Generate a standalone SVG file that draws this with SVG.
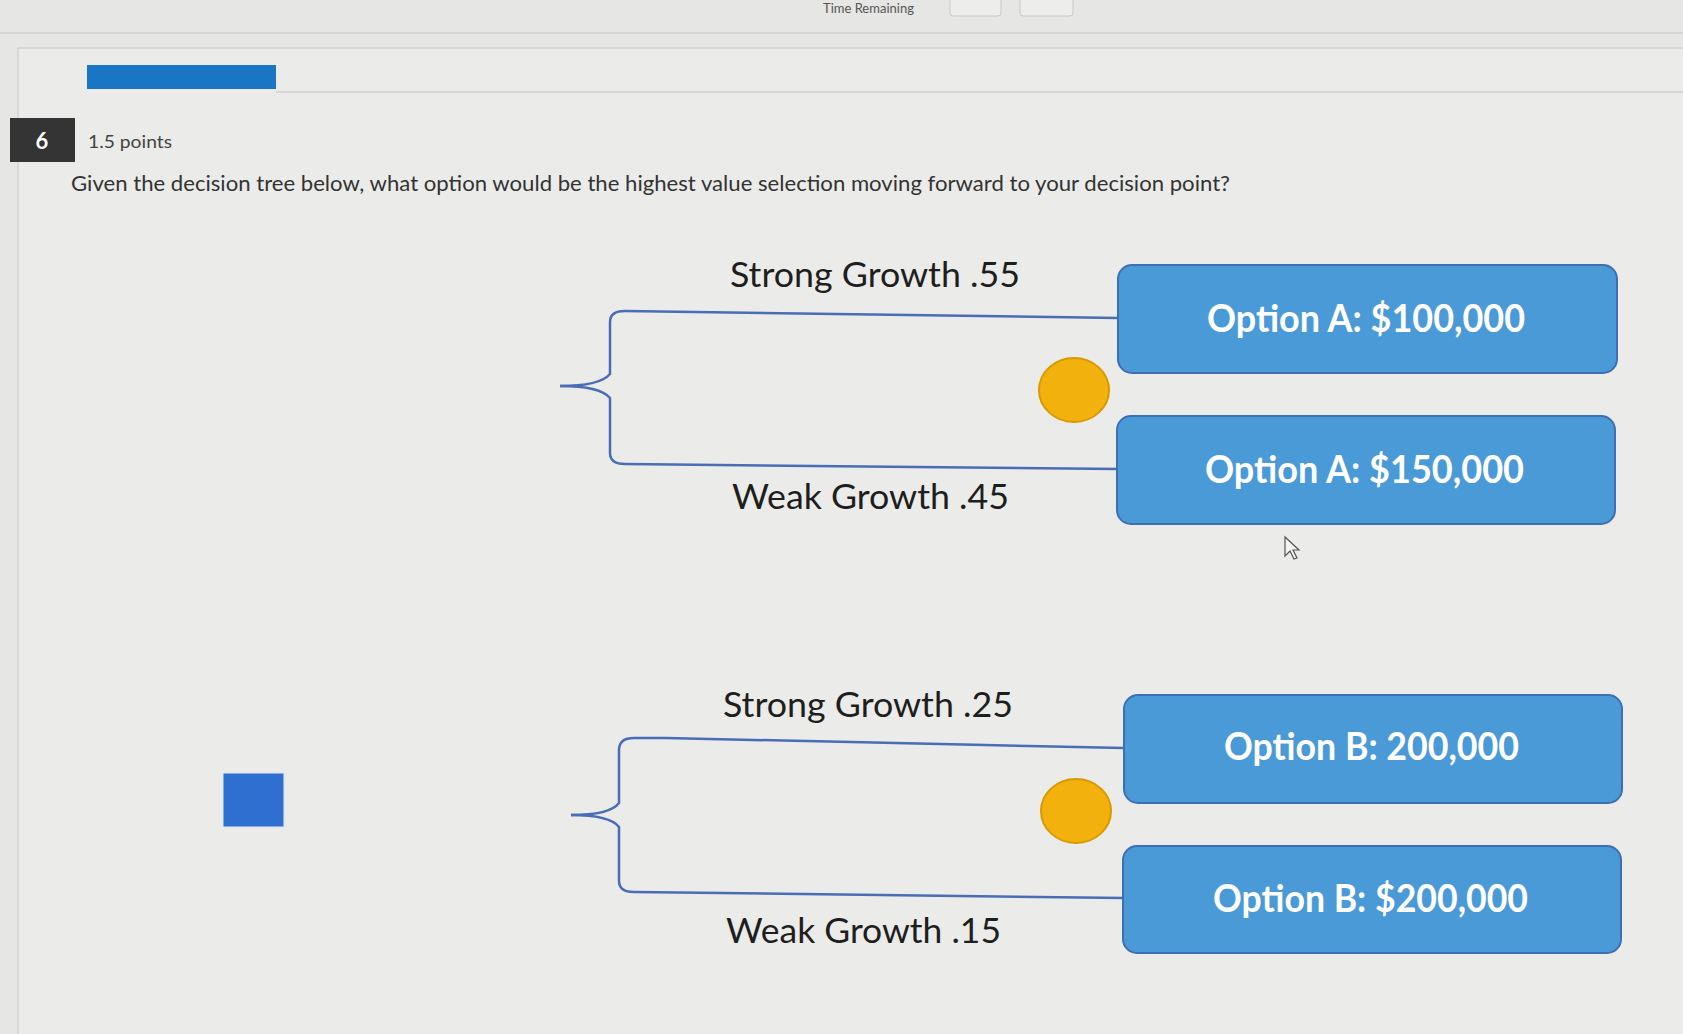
<svg xmlns="http://www.w3.org/2000/svg" width="1683" height="1034" viewBox="0 0 1683 1034">
<defs>
<style>
.lbl{font-family:Lato,"Open Sans","Liberation Sans",sans-serif;font-size:35px;fill:#1e1e1e}
.opt{font-family:Lato,"Open Sans","Liberation Sans",sans-serif;font-size:38px;font-weight:bold;fill:#ffffff}
.box{fill:#4b9ad8;stroke:#3d6fb2;stroke-width:2}
.chance{fill:#f3b10d;stroke:#d79a00;stroke-width:2}
.branch{fill:none;stroke:#4a6db5;stroke-width:2.5;stroke-linejoin:round}
.ui{font-family:Lato,"Liberation Sans",sans-serif}
</style>
</defs>
<rect x="0" y="0" width="1683" height="1034" fill="#e6e6e4"/>
<rect x="18" y="48" width="1670" height="990" fill="#ebebe9" stroke="#d2d2d0" stroke-width="1.5"/>
<line x1="0" y1="33" x2="1683" y2="33" stroke="#cfcfcd" stroke-width="1.5"/>
<g id="topbar">
<text class="ui" x="823" y="13" font-size="13" fill="#555">Time Remaining</text>
<rect x="950" y="-8" width="51" height="24" rx="3" fill="#ededeb" stroke="#c8c8c6"/>
<rect x="1020" y="-8" width="53" height="24" rx="3" fill="#ededeb" stroke="#c8c8c6"/>
</g>
<rect x="87" y="65" width="189" height="24" fill="#1a76c4"/>
<line x1="276" y1="92" x2="1683" y2="92" stroke="#cfcfcd" stroke-width="1.5"/>
<g id="header">
<rect x="10" y="118" width="65" height="44" fill="#343434"/>
<text class="ui" x="42" y="149" font-size="22" font-weight="bold" fill="#ffffff" text-anchor="middle">6</text>
<text class="ui" x="88" y="148" font-size="18" fill="#444" textLength="84" lengthAdjust="spacingAndGlyphs">1.5 points</text>
<text class="ui" x="71" y="191" font-size="21" fill="#333" textLength="1159" lengthAdjust="spacingAndGlyphs">Given the decision tree below, what option would be the highest value selection moving forward to your decision point?</text>
</g>
<g id="connectors">
<path class="branch" d="M560 386 Q600 386 610 374 L610 322 Q610 311 625 311 L1118 318"/>
<path class="branch" d="M560 386 Q600 386 610 398 L610 453 Q610 464 625 464 L1118 469"/>
<path class="branch" d="M571 815 Q610 815 619 803 L619 750 Q619 738 634 738 L666 738 L1124 748"/>
<path class="branch" d="M571 815 Q610 815 619 827 L619 881 Q619 892 634 892 L1124 898"/>
</g>
<g id="decision">
<rect x="223" y="773" width="61" height="54" fill="#2f6fcf" stroke="#e0e8f5" stroke-width="1"/>
</g>
<g id="chance1">
<ellipse class="chance" cx="1074" cy="390" rx="35" ry="32"/>
</g>
<g id="chance2">
<ellipse class="chance" cx="1076" cy="811" rx="35" ry="32"/>
</g>
<g id="labels">
<text class="lbl" x="730" y="287" textLength="290" lengthAdjust="spacingAndGlyphs">Strong Growth .55</text>
<text class="lbl" x="732" y="509" textLength="277" lengthAdjust="spacingAndGlyphs">Weak Growth .45</text>
<text class="lbl" x="723" y="717" textLength="290" lengthAdjust="spacingAndGlyphs">Strong Growth .25</text>
<text class="lbl" x="726" y="943" textLength="275" lengthAdjust="spacingAndGlyphs">Weak Growth .15</text>
</g>
<g id="optionA1">
<rect class="box" x="1118" y="265" width="499" height="108" rx="14"/>
<text class="opt" x="1207" y="332" textLength="318" lengthAdjust="spacingAndGlyphs">Option A: $100,000</text>
</g>
<g id="optionA2">
<rect class="box" x="1117" y="416" width="498" height="108" rx="14"/>
<text class="opt" x="1205" y="483" textLength="319" lengthAdjust="spacingAndGlyphs">Option A: $150,000</text>
</g>
<g id="optionB1">
<rect class="box" x="1124" y="695" width="498" height="108" rx="14"/>
<text class="opt" x="1224" y="760" textLength="295" lengthAdjust="spacingAndGlyphs">Option B: 200,000</text>
</g>
<g id="optionB2">
<rect class="box" x="1123" y="846" width="498" height="107" rx="14"/>
<text class="opt" x="1213" y="912" textLength="315" lengthAdjust="spacingAndGlyphs">Option B: $200,000</text>
</g>
<path d="M1285 537 L1285 556 L1290 551 L1294 559 L1297 558 L1293 550 L1299 550 Z" fill="#f4f4f4" stroke="#555" stroke-width="1.2"/>
</svg>
